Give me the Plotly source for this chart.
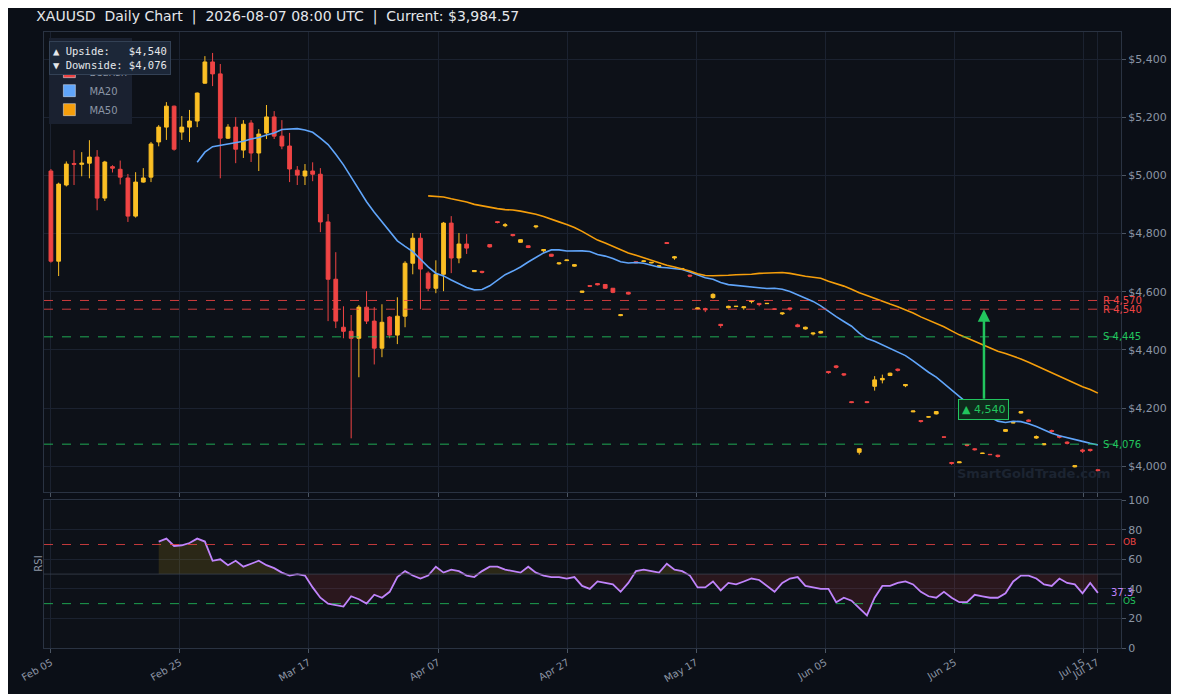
import plotly.graph_objects as go
import pandas as pd

opens = [5015,4705,4967,5041,5038,5042,5063,4922,5030,5021,
         4991,4860,4977,4994,5115,5166,5238,5149,5166,5187,
         5317,5390,5349,5128,5166,5087,5180,5077,5146,5201,
         5135,5101,5018,4998,5015,5004,4840,4643,4478,4464,
         4440,4547,4499,4406,4513,4451,4516,4698,4784,4664,
         4612,4660,4836,4716,4764,4669,4670,4762,4841,4827,
         4797,4770,4758,4823,4741,4729,4696,4707,4688,4598,
         4621,4628,4625,4612,4518,4598,4703,4704,4699,4686,
         4769,4716,4679,4657,4541,4542,4580,4488,4545,4549,
         4545,4566,4560,4559,4541,4524,4544,4486,4472,4455,
         4458,4326,4345,4318,4222,4048,4222,4275,4297,4312,
         4334,4277,4187,4157,4169,4180,4101,4013,4012,4075,
         4060,4044,4041,4038,4120,4149,4183,4159,4097,4074,
         4123,4104,4083,3998,4056,4058,3988]
highs = [5022,4975,5048,5087,5080,5121,5087,5050,5035,5051,
         5005,5011,5025,5115,5173,5252,5240,5204,5225,5285,
         5410,5421,5383,5176,5200,5190,5190,5159,5242,5221,
         5190,5146,5032,5039,5045,5025,4867,4736,4550,4520,
         4554,4602,4547,4557,4516,4581,4705,4802,4802,4670,
         4708,4840,4860,4802,4798,4673,4672,4763,4842,4836,
         4798,4780,4759,4827,4746,4730,4700,4710,4695,4603,
         4622,4630,4626,4613,4523,4600,4704,4707,4702,4690,
         4770,4723,4681,4658,4545,4545,4595,4489,4552,4551,
         4549,4570,4561,4561,4542,4528,4545,4490,4480,4460,
         4466,4327,4348,4320,4223,4062,4224,4310,4315,4322,
         4336,4282,4191,4158,4171,4190,4102,4015,4016,4077,
         4062,4046,4042,4040,4128,4151,4190,4161,4106,4078,
         4126,4106,4086,4003,4060,4060,3989]
lows = [4700,4654,4962,4967,4997,4990,4880,4912,5010,4969,
        4840,4855,4975,4977,5100,5122,5085,5122,5115,5166,
        5315,5307,4990,5125,5042,5060,5046,5015,5125,5125,
        5090,4977,4967,4967,4980,4805,4499,4475,4440,4096,
        4306,4489,4350,4375,4440,4420,4478,4660,4540,4602,
        4595,4602,4664,4698,4730,4668,4663,4752,4835,4822,
        4790,4769,4750,4818,4735,4720,4693,4706,4686,4596,
        4618,4622,4610,4595,4516,4590,4698,4703,4698,4685,
        4764,4710,4678,4650,4540,4530,4576,4476,4543,4548,
        4538,4560,4550,4558,4539,4520,4535,4478,4470,4450,
        4456,4318,4336,4310,4217,4040,4217,4260,4285,4310,
        4326,4272,4186,4150,4168,4178,4099,4005,4011,4068,
        4054,4043,4039,4030,4118,4148,4181,4152,4094,4072,
        4115,4096,4075,3996,4046,4050,3983]
closes = [4705,4970,5039,5038,5042,5063,4922,5046,5025,4994,
          4860,4977,4991,5108,5166,5238,5090,5166,5187,5283,
          5390,5349,5128,5166,5090,5176,5077,5142,5201,5135,
          5101,5022,5001,5015,5004,4840,4643,4499,4464,4440,
          4547,4499,4406,4495,4451,4516,4698,4784,4678,4612,
          4660,4836,4716,4764,4750,4673,4667,4754,4838,4830,
          4793,4779,4752,4826,4745,4722,4699,4709,4693,4602,
          4619,4624,4612,4598,4521,4592,4700,4706,4701,4689,
          4766,4720,4680,4654,4544,4538,4591,4484,4550,4550,
          4548,4569,4556,4560,4540,4527,4541,4480,4478,4458,
          4463,4322,4340,4314,4219,4060,4219,4297,4302,4320,
          4330,4281,4190,4154,4170,4188,4100,4010,4015,4072,
          4057,4045,4040,4034,4126,4150,4188,4155,4102,4077,
          4120,4100,4079,4002,4052,4054,3985]

rsi = [72,74,69,69.5,71,74,72,59,60,56,
       59,55,57,59,56,54,51,49,50,49,
       41,34,30,29,28,35,33,30,36,34,
       38,48,52,49,47,49,55,51,53,52,
       49,48,52,55,55,53,52,51,55,51,
       49,48,48,47,48,42,40,45,44,43,
       38,44,52,53,52,51,57,53,52,49,
       41,41,45,39,44,43,45,47,46,42,
       38,44,47,48,42,41,40,40,31,34,
       32,27,22,34,42,42,44,45,43,38,
       35,34,38,34,31,31,36,35,34,34,
       37,45,49,49,47,43,42,47,44,43,
       37,44,37.3]
rsi_start = 14

tick_pos = [0, 16.76, 33.5, 50.3, 67.1, 83.8, 100.6, 117.4, 134.1, 135.9]
tick_text = ["Feb 05", "Feb 25", "Mar 17", "Apr 07", "Apr 27", "May 17",
             "Jun 05", "Jun 25", "Jul 15", "Jul 17"]
levels = [("R 4,570", 4570, "#ef4444"), ("R 4,540", 4540, "#ef4444"),
          ("S 4,445", 4445, "#22c55e"), ("S 4,076", 4076, "#22c55e")]
upside, downside = 4540, 4076
arrow_idx, arrow_from = 121.2, 4227

YEL, RED, BLUE, ORANGE, PURPLE = "#fbbf24", "#ef4444", "#60a5fa", "#f59e0b", "#c084fc"
GRID = "#1b2230"
TXT = "#8b95a5"

n = len(closes)
x = list(range(n))
cs = pd.Series(closes)
ma20 = cs.rolling(20).mean()
ma50 = cs.rolling(50).mean()

fig = go.Figure()
fig.add_trace(go.Candlestick(x=x, open=opens, high=highs, low=lows, close=closes,
    increasing=dict(line=dict(color=YEL, width=1), fillcolor=YEL),
    decreasing=dict(line=dict(color=RED, width=1), fillcolor=RED),
    whiskerwidth=0, showlegend=False, xaxis="x", yaxis="y"))
fig.add_trace(go.Scatter(x=x, y=ma20, mode="lines", line=dict(color=BLUE, width=1.6),
                         showlegend=False, xaxis="x", yaxis="y"))
fig.add_trace(go.Scatter(x=x, y=ma50, mode="lines", line=dict(color=ORANGE, width=1.6),
                         showlegend=False, xaxis="x", yaxis="y"))
for name, col in [("Bullish", YEL), ("Bearish", RED), ("MA20", BLUE), ("MA50", ORANGE)]:
    fig.add_trace(go.Bar(x=[None], y=[None], name=name, marker_color=col, xaxis="x", yaxis="y"))

rx = list(range(rsi_start, rsi_start + len(rsi)))
up = [max(v, 50) for v in rsi]
dn = [min(v, 50) for v in rsi]
base = [50] * len(rsi)
fig.add_trace(go.Scatter(x=rx, y=base, mode="lines", line=dict(width=0), showlegend=False,
                         hoverinfo="skip", xaxis="x2", yaxis="y2"))
fig.add_trace(go.Scatter(x=rx, y=up, mode="lines", line=dict(width=0), fill="tonexty",
                         fillcolor="rgba(250,204,21,0.13)", showlegend=False, xaxis="x2", yaxis="y2"))
fig.add_trace(go.Scatter(x=rx, y=base, mode="lines", line=dict(width=0), showlegend=False,
                         hoverinfo="skip", xaxis="x2", yaxis="y2"))
fig.add_trace(go.Scatter(x=rx, y=dn, mode="lines", line=dict(width=0), fill="tonexty",
                         fillcolor="rgba(239,68,68,0.13)", showlegend=False, xaxis="x2", yaxis="y2"))
fig.add_trace(go.Scatter(x=rx, y=rsi, mode="lines", line=dict(color=PURPLE, width=1.8),
                         showlegend=False, xaxis="x2", yaxis="y2"))

shapes = []
for lab, val, col in levels:
    shapes.append(dict(type="line", xref="x domain", yref="y", x0=0, x1=1, y0=val, y1=val,
                       line=dict(color=col, width=1, dash="dash"), opacity=0.85))
for val, col, dash in [(70, RED, "dash"), (30, "#22c55e", "dash"), (50, "#3a4250", "solid")]:
    shapes.append(dict(type="line", xref="x2 domain", yref="y2", x0=0, x1=1, y0=val, y1=val,
                       line=dict(color=col, width=1, dash=dash), opacity=0.8))

ann = []
for lab, val, col in levels:
    ann.append(dict(xref="paper", yref="y", x=0.981, y=val, text=lab, showarrow=False,
                    xanchor="left", font=dict(color=col, size=10)))
ann.append(dict(x=arrow_idx, y=upside, ax=arrow_idx, ay=arrow_from, xref="x", yref="y",
                axref="x", ayref="y", text="", showarrow=True, arrowhead=2, arrowsize=1,
                arrowwidth=2.5, arrowcolor="#22c55e"))
ann.append(dict(x=arrow_idx, y=4195, xref="x", yref="y", text="▲ 4,540", showarrow=False,
                font=dict(color="#22c55e", size=11, family="DejaVu Sans"), bgcolor="#0f2a1c",
                bordercolor="#22c55e", borderwidth=1, borderpad=3))
ann.append(dict(xref="paper", yref="paper", x=0.005, y=0.985, xanchor="left", yanchor="top",
                text=f"▲ Upside:   ${upside:,}<br>▼ Downside: ${downside:,}", align="left",
                showarrow=False, font=dict(family="DejaVu Sans Mono", size=10.5, color="#e5e7eb"),
                bgcolor="#1c2738", bordercolor="#334155", borderwidth=1, borderpad=3))
ann.append(dict(xref="paper", yref="paper", x=0.993, y=0.268, xanchor="right", yanchor="bottom",
                text="<b>SmartGoldTrade.com</b>", showarrow=False,
                font=dict(color="#1c2431", size=13)))
ann.append(dict(xref="paper", yref="y2", x=1.0, y=72, text="OB", xanchor="left", showarrow=False,
                font=dict(color=RED, size=9)))
ann.append(dict(xref="paper", yref="y2", x=1.0, y=32, text="OS", xanchor="left", showarrow=False,
                font=dict(color="#22c55e", size=9)))
ann.append(dict(xref="paper", yref="y2", x=0.989, y=rsi[-1], text=f"{rsi[-1]}", xanchor="left",
                showarrow=False, font=dict(color=PURPLE, size=10)))

xr = [-0.9, 139]
fig.update_layout(
    width=1179, height=694, paper_bgcolor="#0b0f17", plot_bgcolor="#0d1118",
    margin=dict(l=28, r=66, t=24, b=54),
    font=dict(family="DejaVu Sans", color=TXT, size=11),
    title=dict(text="XAUUSD  Daily Chart  |  2026-08-07 08:00 UTC  |  Current: $3,984.57",
               x=0.024, xanchor="left", y=0.995, yanchor="top",
               font=dict(color="#e5e7eb", size=14)),
    showlegend=True,
    legend=dict(x=0.005, y=0.99, xanchor="left", yanchor="top", bgcolor="#1a2130",
                font=dict(size=10, color=TXT), itemwidth=30, tracegroupgap=0,
                traceorder="normal"),
    xaxis=dict(domain=[0, 1], range=xr, tickvals=tick_pos, ticktext=tick_text,
               showticklabels=False, ticks="outside", ticklen=4, tickcolor="#4b5563",
               gridcolor=GRID, rangeslider=dict(visible=False), anchor="y",
               showline=True, linecolor="#2a3342", mirror=True, zeroline=False),
    yaxis=dict(domain=[0.253, 1], range=[3911, 5493], side="right", tickvals=list(range(4000, 5401, 200)),
               ticktext=[f"${v:,}" for v in range(4000, 5401, 200)], gridcolor=GRID, ticks="outside",
               ticklen=4, tickcolor="#4b5563", showline=True, linecolor="#2a3342", mirror=True,
               zeroline=False, anchor="x"),
    xaxis2=dict(domain=[0, 1], range=xr, tickvals=tick_pos, ticktext=tick_text, tickangle=-30,
                ticks="outside", ticklen=4, tickcolor="#4b5563", gridcolor=GRID, anchor="y2",
                tickfont=dict(size=10), showline=True, linecolor="#2a3342", mirror=True, zeroline=False),
    yaxis2=dict(domain=[0, 0.24], range=[0, 100], side="right", tickvals=[0, 20, 40, 60, 80, 100],
                gridcolor=GRID, ticks="outside", ticklen=4, tickcolor="#4b5563", anchor="x2",
                showline=True, linecolor="#2a3342", mirror=True, zeroline=False),
    shapes=shapes, annotations=ann,
)
fig.add_annotation(xref="paper", yref="paper", x=-0.012, y=0.12, text="RSI", textangle=-90,
                   showarrow=False, font=dict(size=10, color=TXT))
fig.write_html("out.html")
